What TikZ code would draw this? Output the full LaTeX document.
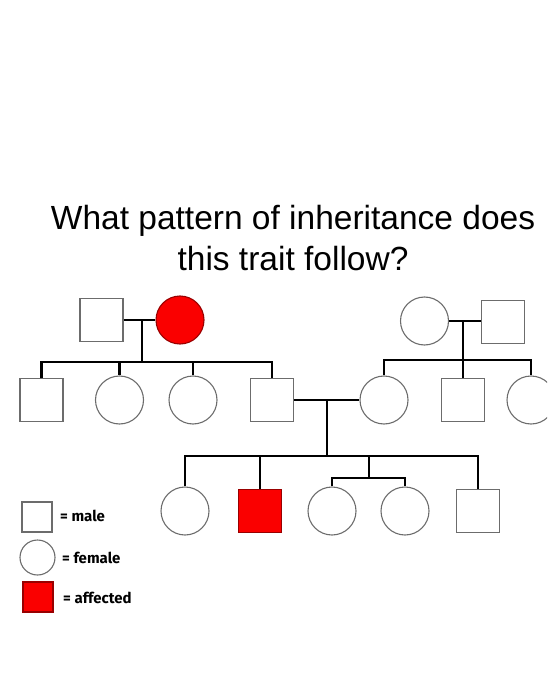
\documentclass[tikz,border=0pt]{standalone}
\usepackage{fontspec}
\setmainfont{Liberation Sans}
\newfontfamily\legendfont{Fira Sans}
\usepackage{xcolor}
\usetikzlibrary{positioning}
\definecolor{affred}{RGB}{250,0,0}

\begin{document}
\begin{tikzpicture}[x=1pt,y=-1pt,
  male/.style={rectangle, draw=gray!85!black, line width=1.1pt, minimum size=43pt, inner sep=0pt},
  female/.style={circle, draw=gray!85!black, line width=1.1pt, minimum size=48pt, inner sep=0pt},
  affected/.style={fill=affred, draw=red!60!black},
  link/.style={line width=2.7pt, black},
  heading/.style={anchor=base, font=\fontsize{33.5}{40}\selectfont, inner sep=0pt},
  legend/.style={anchor=base west, font=\legendfont\bfseries\fontsize{15}{18}\selectfont, inner sep=0pt}]
\clip (0,0) rectangle (547,700);
\useasboundingbox (0,0) rectangle (547,700);

\node [heading] (title1) at (293,230) {What pattern of inheritance does};
\node [heading] (title2) at (293,270) {this trait follow?};

% generation I
\node [male] (m1) at (101.5,320) {};
\node [female, affected] (f1) at (180,320) {};
\node [female] (f2) at (424.5,321) {};
\node [male] (m2) at (503,322) {};

% generation II
\node [male] (s1) at (41.5,400) {};
\node [female] (d1) at (119.5,400) {};
\node [female] (d2) at (193,400) {};
\node [male] (s2) at (272,400) {};
\node [female] (w) at (384,400) {};
\node [male] (s3) at (463,400) {};
\node [female] (d3) at (531,400) {};

% generation III
\node [female] (g1) at (185,511) {};
\node [male, affected] (g2) at (260,511) {};
\node [female] (g3) at (332,511) {};
\node [female] (g4) at (405,511) {};
\node [male] (g5) at (478,511) {};

% left family
\draw [link] (m1.east) -- (f1.west);
\coordinate (c1) at (142,320);
\coordinate (b1) at (142,362);
\draw [link] (c1) -- (b1);
\draw [link] (s1.north) -- (s1.north |- b1) -- (s2.north |- b1) -- (s2.north);
\draw [link] (d1.north) -- (d1.north |- b1);
\draw [link] (d2.north) -- (d2.north |- b1);

% right family
\draw [link] (f2.east) -- (m2.west |- f2.east);
\coordinate (c2) at (463,321);
\coordinate (b2) at (463,360);
\draw [link] (c2) -- (b2);
\draw [link] (w.north) -- (w.north |- b2) -- (d3.north |- b2) -- (d3.north);
\draw [link] (s3.north) -- (s3.north |- b2);

% marriage in generation II
\draw [link] (s2.east) -- (w.west);
\coordinate (c3) at (327,400);
\coordinate (b3) at (327,456);
\draw [link] (c3) -- (b3);
\draw [link] (g1.north) -- (g1.north |- b3) -- (g5.north |- b3) -- (g5.north);
\draw [link] (g2.north) -- (g2.north |- b3);
\coordinate (t) at (369,478);
\draw [link] (t) -- (t |- b3);
\draw [link] (g3.north) -- (g3.north |- t) -- (g4.north |- t) -- (g4.north);

% legend
\node [male, minimum size=30pt] (lm) at (37,517) {};
\node [legend] (lmt) at (60,521) {= male};
\node [female, minimum size=35pt] (lf) at (37.5,557.5) {};
\node [legend] (lft) at (62,563) {= female};
\node [male, affected, minimum size=30pt] (la) at (38,597) {};
\node [legend] (lat) at (63,603) {= affected};
\end{tikzpicture}
\end{document}
